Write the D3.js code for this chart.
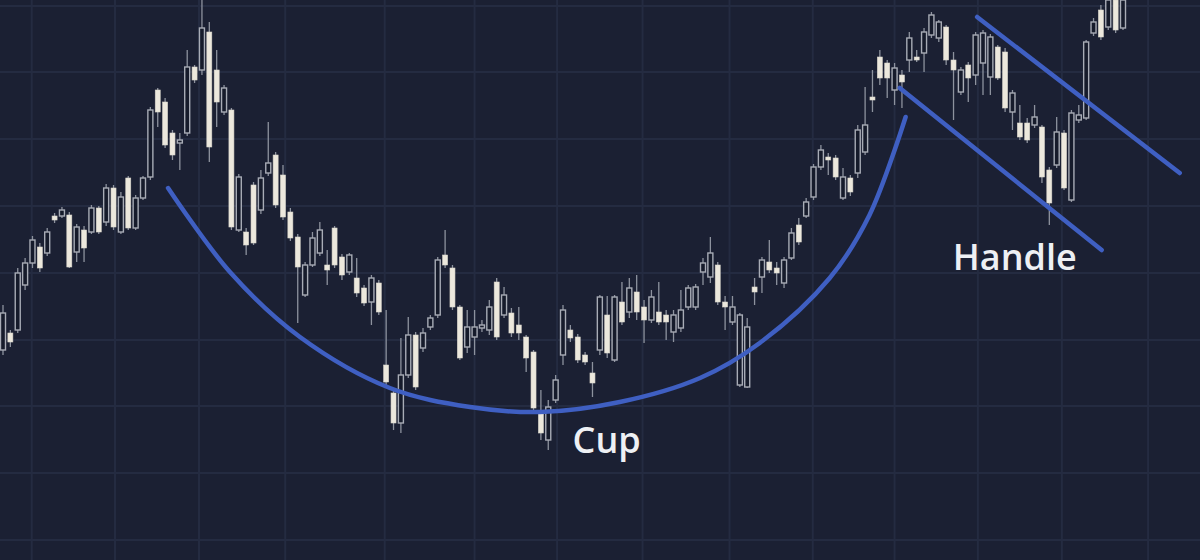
<!DOCTYPE html>
<html>
<head>
<meta charset="utf-8">
<script src="https://cdn.jsdelivr.net/npm/d3@7/dist/d3.min.js"></script>
<style>
  html, body { margin: 0; padding: 0; background: #1b2033; }
  svg { display: block; }
</style>
</head>
<body>
<svg id="chart" width="1200" height="560"></svg>
<script>
// ---- Data (price units) ----
const openP = [210,227,230,275,297,313,307,344,344,345,308,330,328,352,338,372,328,382,332,362,
  383,470,458,427,417,427,493,490,528,490,448,450,330,328,375,350,387,405,385,348,
  323,265,295,307,295,332,303,288,282,272,258,277,195,167,137,185,225,212,233,245,
  305,292,253,213,223,232,230,278,245,247,235,223,208,147,120,160,205,230,223,205,
  187,210,245,200,258,248,268,253,240,248,245,228,232,253,253,288,283,295,258,238,
  175,173,273,283,298,292,277,302,335,344,363,393,403,402,362,382,387,408,463,503,
  497,470,485,500,503,507,525,522,533,500,468,495,485,497,483,513,508,448,437,437,
  435,433,390,395,427,360,440,442,527,550,533,560,532];
const highP = [255,230,292,302,324,317,332,347,353,348,336,334,355,354,376,375,368,384,365,384,
  453,472,462,430,427,510,495,560,538,510,475,452,386,332,378,390,438,408,395,352,
  326,298,328,338,310,334,306,307,302,275,285,280,250,172,222,243,228,232,245,303,
  330,295,255,250,250,240,260,282,273,252,253,225,210,170,160,185,255,235,226,208,
  198,265,264,265,278,282,285,260,270,278,250,250,270,275,276,302,323,298,264,264,
  247,242,282,303,320,298,303,332,342,362,396,415,407,405,392,385,435,473,490,510,
  500,497,490,528,510,532,548,540,535,508,493,498,528,530,526,515,512,470,455,442,
  455,435,393,443,430,450,455,520,542,555,565,565,565];
const lowP = [205,213,227,270,292,288,304,337,342,292,298,298,326,326,334,330,326,330,330,360,
  380,433,412,400,390,424,477,485,398,433,445,330,328,305,315,346,384,352,340,319,
  237,263,293,304,275,292,280,285,263,254,235,245,175,130,127,182,170,208,230,242,
  292,250,200,207,205,228,225,220,242,223,220,188,148,120,110,157,195,218,197,195,
  163,205,202,198,235,242,240,217,237,235,220,218,228,250,250,275,277,255,230,235,
  173,172,255,267,287,275,272,300,315,342,360,390,385,380,360,364,382,405,448,475,
  462,455,452,488,498,488,522,518,495,440,465,458,475,465,465,480,448,430,420,417,
  432,377,335,392,370,358,437,440,524,520,530,527,530];
const closeP = [247,218,287,297,320,292,328,340,350,293,333,312,352,328,372,333,363,332,362,382,
  450,448,415,405,420,493,480,532,413,458,472,333,383,315,317,382,397,355,343,322,
  293,295,322,330,290,295,285,305,267,257,282,248,178,137,185,225,173,227,242,300,
  295,253,202,233,233,235,253,223,265,227,227,202,152,127,153,180,250,222,200,198,
  177,263,207,263,238,272,248,240,263,238,238,245,250,272,273,297,307,258,253,253,
  245,233,268,300,290,287,300,327,318,358,393,410,400,383,383,368,430,435,460,482,
  482,492,478,522,500,528,545,538,500,490,490,482,525,527,523,482,452,467,423,420,
  443,383,357,428,372,447,445,518,538,523,560,530,560];

// grid positions (candle index / price level)
const gridIndex = [3.9, 15.2, 26.6, 38.3, 51.8, 64.0, 75.2, 86.8, 98.6, 109.9, 121.0, 132.3, 143.7, 155.4];
const gridPrice = [554, 488, 421, 354, 287, 220, 154, 87, 20];

// annotations: cup curve anchors (index, price)
const cupIndex = [22.4, 30.8, 40.3, 52.5, 63.4, 72.9, 83.7, 94.6, 102.7, 112.2, 117.6, 122.5];
const cupPrice = [372, 288, 223, 172, 153, 148, 158, 182, 217, 282, 345, 443];
// handle channel lines [startIndex, startPrice, endIndex, endPrice]
const handleLower = [121.7, 472, 149.1, 310];
const handleUpper = [132.2, 543, 159.7, 387];
const labels = ["Cup", "Handle"];
const labelIndex = [77.3, 128.9];
const labelPrice = [107, 290];

// ---- Drawing ----
const W = 1200, H = 560;
const svg = d3.select("#chart");
const x = d3.scaleLinear().domain([0, 152]).range([3, 1123]);
const y = d3.scaleLinear().domain([0, 560]).range([560, 0]);

svg.append("rect").attr("width", W).attr("height", H).attr("fill", "#1b2033");

const g = svg.append("g");
g.selectAll(".gx").data(gridIndex).join("line")
  .attr("x1", d => x(d)).attr("x2", d => x(d))
  .attr("y1", 0).attr("y2", H)
  .attr("stroke", "#242b41").attr("stroke-width", 2);
g.selectAll(".gy").data(gridPrice).join("line")
  .attr("y1", d => y(d)).attr("y2", d => y(d))
  .attr("x1", 0).attr("x2", W)
  .attr("stroke", "#242b41").attr("stroke-width", 2);

const candles = openP.map((o, i) => ({i, o, h: highP[i], l: lowP[i], c: closeP[i]}));
const bw = 5;
const cg = svg.append("g");
cg.selectAll(".wick").data(candles).join("line")
  .attr("x1", d => x(d.i)).attr("x2", d => x(d.i))
  .attr("y1", d => y(d.h)).attr("y2", d => y(d.l))
  .attr("stroke", "#8d929e").attr("stroke-width", 1.3);
cg.selectAll(".body").data(candles).join("rect")
  .attr("x", d => x(d.i) - bw / 2)
  .attr("width", bw)
  .attr("y", d => y(Math.max(d.o, d.c)))
  .attr("height", d => Math.max(1.5, Math.abs(y(d.o) - y(d.c))))
  .attr("fill", d => d.c >= d.o ? "#161b2b" : "#ece8dd")
  .attr("stroke", d => d.c >= d.o ? "#a8acb6" : "#d9d5cb")
  .attr("stroke-width", d => d.c >= d.o ? 1.4 : 0.6);

// cup
const cupPts = cupIndex.map((d, k) => [x(d), y(cupPrice[k])]);
svg.append("path")
  .attr("d", d3.line().curve(d3.curveCatmullRom.alpha(0.5))(cupPts))
  .attr("fill", "none").attr("stroke", "#3f5fc2")
  .attr("stroke-width", 4.5).attr("stroke-linecap", "round");

[handleLower, handleUpper].forEach(h => {
  svg.append("line")
    .attr("x1", x(h[0])).attr("y1", y(h[1]))
    .attr("x2", x(h[2])).attr("y2", y(h[3]))
    .attr("stroke", "#3f5fc2").attr("stroke-width", 4.5)
    .attr("stroke-linecap", "round");
});

svg.selectAll(".lbl").data(labels).join("text")
  .attr("x", (d, k) => x(labelIndex[k]))
  .attr("y", (d, k) => y(labelPrice[k]))
  .attr("fill", "#eef0f4")
  .attr("font-family", "'Open Sans', 'Noto Sans', sans-serif")
  .attr("font-weight", 600)
  .attr("font-size", 36)
  .text(d => d);
</script>
</body>
</html>
